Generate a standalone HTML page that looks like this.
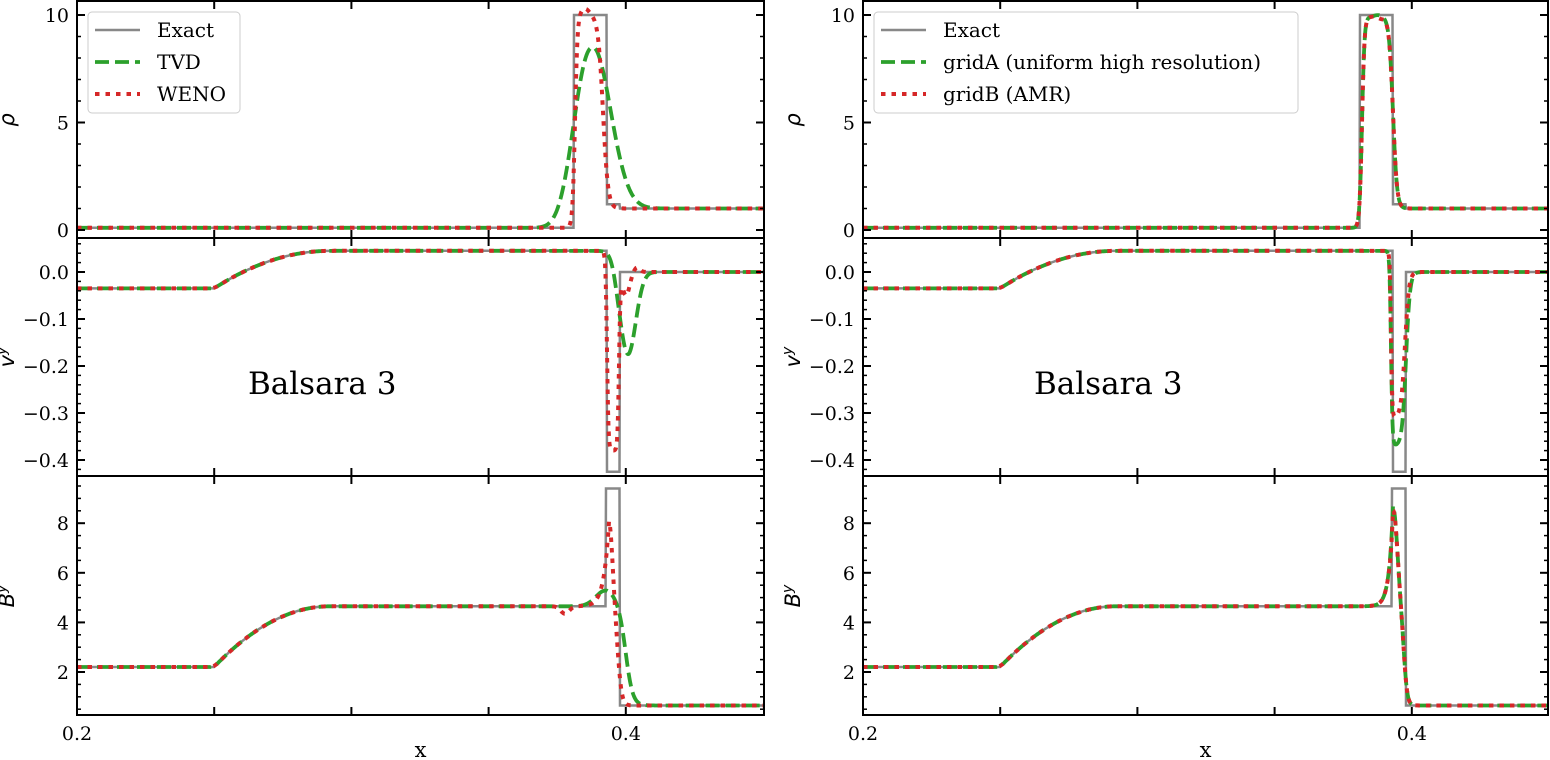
<!DOCTYPE html>
<html><head><meta charset="utf-8">
<style>
html,body{margin:0;padding:0;background:#fff;}
svg{display:block;}
text{font-family:"DejaVu Serif","Liberation Serif",serif;fill:#000;}
</style></head>
<body>
<div id="wrap" style="width:1550px;height:760px;"></div>
<script>
var out='';
var rows=[[1,238],[238,476],[476,715]];
var panels=[[77,764],[863,1548]];
function ym(r,v){ if(r==0) return 230-21.5*v; if(r==1) return 272-470*v; return 672-24.8*(v-2); }
function th(z){ var e=Math.exp(2*z); if(!isFinite(e)) return 1; return (e-1)/(e+1); }
function s(x,c,w){return 0.5*(1+th((x-c)/w));}
function g(x,c,w){var z=(x-c)/w; return Math.exp(-z*z);}
function rare(x,a,b){ if(x<=214) return a; if(x>=330) return b; var t=(x-214)/116; return a+(b-a)*(1-(1-t)*(1-t)); }
function rareS(x,a,b){ var acc=0,n=0; for(var d=-4;d<=4;d++){acc+=rare(x+d,a,b);n++;} return acc/n; }
function exf(r,x){
  if(r==0) return x<574?0.1:(x<607?10:(x<620?1.2:1.0));
  if(r==1) return x<607?rare(x,-0.035,0.045):(x<620?-0.425:0.0);
  return x<606?rare(x,2.2,4.65):(x<620?9.4:0.65);
}
function tvd(r,x){
  if(r==0) return x<593?0.1+8.4*Math.exp(-Math.pow(Math.abs(x-593)/25,2.3)):1+7.5*g(x,593,25);
  if(r==1) return rareS(x,-0.035,0.045)*(1-s(x,615,5))-0.175*g(x,628,11);
  return 0.65+(rareS(x,2.2,4.65)+0.65*g(x,606,14)-0.65)*(1-s(x,626,7));
}
function weno(r,x){
  if(r==0) return 0.1+9.9*s(x,575,2.5)*(1-s(x,603,5))+0.9*s(x,603,5)+0.3*g(x,585,6);
  if(r==1) return rareS(x,-0.035,0.045)*(1-s(x,607,1.5))-0.38*s(x,607,1.5)*(1-s(x,619,1.5))-0.05*g(x,626,5)+0.01*g(x,637,4);
  var b=rareS(x,2.2,4.65)-0.3*g(x,565,6);
  b+= x<609?3.5*Math.exp((x-609)/5):3.5*g(x,609,5);
  return 0.65+(b-0.65)*(1-s(x,618,4));
}
function gA(r,x){
  if(r==0) return 0.1+9.8*s(x,1362,2.5)*(1-s(x,1393,4))+0.9*s(x,1393,4)+0.1*g(x,1378,6);
  if(r==1) return rareS(x-786,-0.035,0.045)*(1-s(x,1391,1.5))-0.37*s(x,1391,1.5)*(1-s(x,1406,4));
  var b=rareS(x-786,2.2,4.65);
  b+= x<1393?4.05*Math.exp((x-1393)/4):4.05*g(x,1393,6);
  return 0.65+(b-0.65)*(1-s(x,1404,3.5));
}
function gB(r,x){
  if(r==0) return gA(0,x)-0.15*g(x,1380,5);
  if(r==1) return rareS(x-786,-0.035,0.045)*(1-s(x,1391,1.5))-0.31*s(x,1391,1.2)*(1-s(x,1405,4));
  return gA(2,x)-0.2*g(x,1392,3);
}
function series(pi,k,r,x){
  if(k==0) return pi==0?exf(r,x):exf(r,x-786);
  if(k==1) return pi==0?tvd(r,x):gA(r,x);
  return pi==0?weno(r,x):gB(r,x);
}
var GR='#888888',GN='#2ca02c',RD='#d62728';
var st=[[GR,2.5,''],[GN,3.8,'14 6'],[RD,4,'4.5 6']];
out+='<defs>';
for(var pi=0;pi<2;pi++) for(var ri=0;ri<3;ri++){
  out+='<clipPath id="c'+pi+ri+'"><rect x="'+panels[pi][0]+'" y="'+rows[ri][0]+'" width="'+(panels[pi][1]-panels[pi][0])+'" height="'+(rows[ri][1]-rows[ri][0])+'"/></clipPath>';
}
out+='</defs>';
var yt=[[[0,5,10],1,['0','5','10']],[[0.0,-0.1,-0.2,-0.3,-0.4],0.02,['0.0','\u22120.1','\u22120.2','\u22120.3','\u22120.4']],[[2,4,6,8],0.5,['2','4','6','8']]];
var ranges=[[-0.37,10.7],[-0.434,0.072],[0.28,9.9]];
for(var pi=0;pi<2;pi++){
  var L=panels[pi][0],R=panels[pi][1];
  for(var ri=0;ri<3;ri++){
    out+='<g clip-path="url(#c'+pi+ri+')">';
    for(var k=0;k<3;k++){
      var d='';
      for(var x=L;x<=R;x+=0.5){ var y=ym(ri,series(pi,k,ri,x)); d+=(d?'L':'M')+x.toFixed(1)+' '+y.toFixed(1); }
      out+='<path d="'+d+'" fill="none" stroke="'+st[k][0]+'" stroke-width="'+st[k][1]+'"'+(st[k][2]?' stroke-dasharray="'+st[k][2]+'"':'')+'/>';
    }
    out+='</g>';
    var maj=yt[ri][0],mn=yt[ri][1],lab=yt[ri][2],lo=ranges[ri][0],hi=ranges[ri][1];
    for(var v=Math.ceil(lo/mn)*mn;v<=hi+1e-9;v+=mn){
      var y=ym(ri,v);
      if(y<rows[ri][0]+1||y>rows[ri][1]-1) continue;
      out+='<line x1="'+L+'" x2="'+(L+4)+'" y1="'+y+'" y2="'+y+'" stroke="#000" stroke-width="1.5"/><line x1="'+(R-4)+'" x2="'+R+'" y1="'+y+'" y2="'+y+'" stroke="#000" stroke-width="1.5"/>';
    }
    for(var i=0;i<maj.length;i++){
      var y=ym(ri,maj[i]);
      out+='<line x1="'+L+'" x2="'+(L+8)+'" y1="'+y+'" y2="'+y+'" stroke="#000" stroke-width="2"/><line x1="'+(R-8)+'" x2="'+R+'" y1="'+y+'" y2="'+y+'" stroke="#000" stroke-width="2"/>';
      out+='<text x="'+(L-8)+'" y="'+(y+7)+'" font-size="19" text-anchor="end">'+lab[i]+'</text>';
    }
  }
  for(var k=0;k<=5;k++){
    var x=L+k*137.2; if(x>R-2) continue;
    for(var ri=0;ri<3;ri++){
      out+='<line x1="'+x+'" x2="'+x+'" y1="'+rows[ri][0]+'" y2="'+(rows[ri][0]+8)+'" stroke="#000" stroke-width="2"/><line x1="'+x+'" x2="'+x+'" y1="'+(rows[ri][1]-8)+'" y2="'+rows[ri][1]+'" stroke="#000" stroke-width="2"/>';
    }
  }
  out+='<text x="'+L+'" y="740" font-size="19" text-anchor="middle">0.2</text><text x="'+(L+548.8)+'" y="740" font-size="19" text-anchor="middle">0.4</text>';
  out+='<text x="'+((L+R)/2)+'" y="757" font-size="21" text-anchor="middle">x</text>';
  for(var ri=0;ri<3;ri++){
    out+='<rect x="'+L+'" y="'+rows[ri][0]+'" width="'+(R-L)+'" height="'+(rows[ri][1]-rows[ri][0])+'" fill="none" stroke="#000" stroke-width="2"/>';
  }
  var yl=L-63;
  var sty=' font-size="21" font-style="italic" text-anchor="middle" style="font-family:\'DejaVu Sans\',sans-serif"';
  out+='<text transform="translate('+yl+',120) rotate(-90)"'+sty+'>\u03c1</text>';
  out+='<text transform="translate('+yl+',357) rotate(-90)"'+sty+'>v<tspan dy="-8" font-size="14">y</tspan></text>';
  out+='<text transform="translate('+yl+',596) rotate(-90)"'+sty+'>B<tspan dy="-8" font-size="14">y</tspan></text>';
  out+='<text x="'+(L+171)+'" y="394" font-size="31">Balsara 3</text>';
  var names=pi==0?['Exact','TVD','WENO']:['Exact','gridA (uniform high resolution)','gridB (AMR)'];
  var lw=pi==0?152:424;
  out+='<rect x="'+(L+11)+'" y="12" width="'+lw+'" height="101" rx="4" fill="#fff" fill-opacity="0.8" stroke="#ccc" stroke-width="1"/>';
  for(var i=0;i<3;i++){
    var y=30+i*32;
    out+='<line x1="'+(L+18)+'" x2="'+(L+63)+'" y1="'+y+'" y2="'+y+'" stroke="'+st[i][0]+'" stroke-width="'+st[i][1]+'"'+(st[i][2]?' stroke-dasharray="'+st[i][2]+'"':'')+'/>';
    out+='<text x="'+(L+80)+'" y="'+(y+7)+'" font-size="20">'+names[i]+'</text>';
  }
}
document.getElementById('wrap').innerHTML='<svg width="1550" height="760" xmlns="http://www.w3.org/2000/svg">'+out+'</svg>';
</script>
</body></html>
